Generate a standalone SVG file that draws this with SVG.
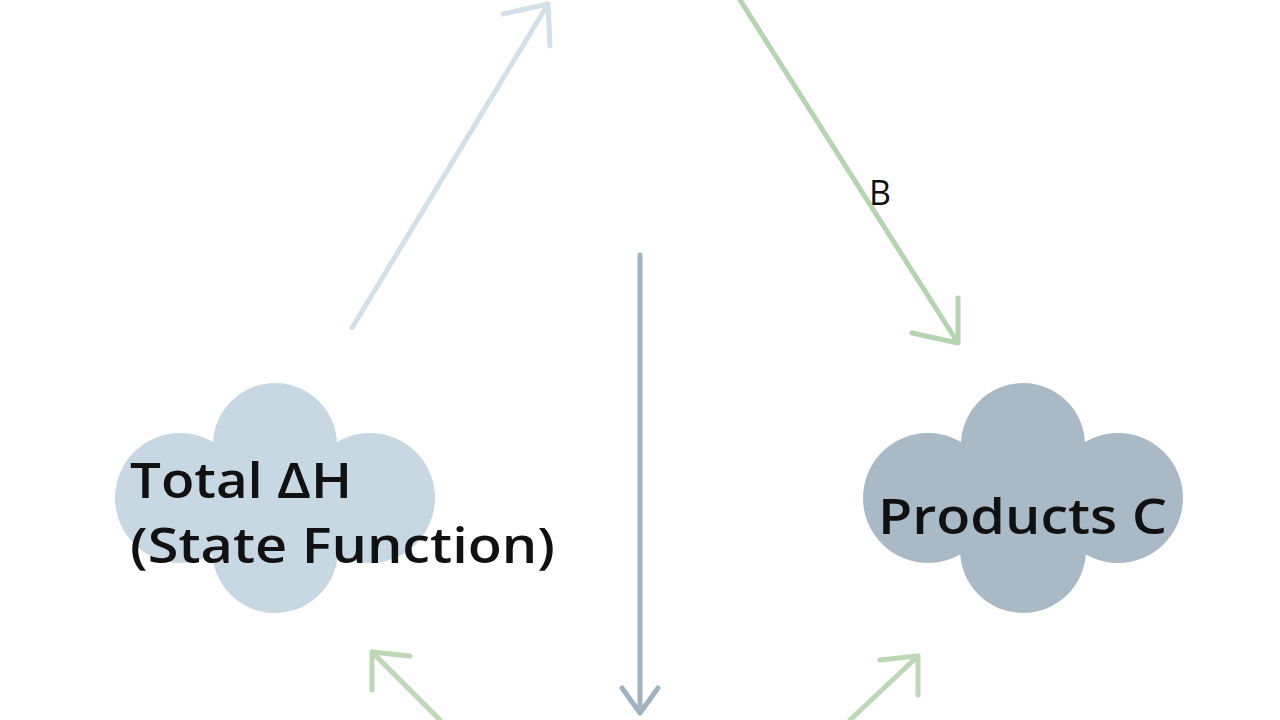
<svg xmlns="http://www.w3.org/2000/svg" width="1280" height="720" viewBox="0 0 1280 720">
<style>
.t{font-family:"Open Sans","Liberation Sans",sans-serif;font-weight:600;fill:#111}
.c{fill:none;stroke-width:5;stroke-linecap:round;stroke-linejoin:round}
</style>
<rect width="1280" height="720" fill="#fff"/>
<g id="connectors">
<path class="c" stroke="#d3e0e8" d="M352,328 L548,4 M503,14 L548,4 L550,46"/>
<path class="c" stroke="#b5d4b0" d="M740,0 L958,343 M912,333 L958,343 L958,298"/>
<text x="880" y="205" font-size="34" text-anchor="middle" font-family="Open Sans, sans-serif" fill="#111">B</text>
<path class="c" stroke="#9fb3c1" d="M640,255 L640,713 M622,688 L640,713 L658,688"/>
<path class="c" stroke="#bcd8b6" d="M440,720 L372,652 M372,690 L372,652 L410,656"/>
<path class="c" stroke="#bcd8b6" d="M850,720 L918,656 M880,660 L918,656 L918,695"/>
</g>
<g id="total" fill="#c8d8e3">
<circle cx="275" cy="445" r="62"/><circle cx="180" cy="498" r="65"/><circle cx="370" cy="498" r="65"/><circle cx="275" cy="550" r="63"/><rect x="180" y="445" width="190" height="105"/>
<text class="t" x="130" y="498" font-size="48" textLength="222" lengthAdjust="spacingAndGlyphs">Total ΔH</text>
<text class="t" x="130" y="563" font-size="48" textLength="425" lengthAdjust="spacingAndGlyphs">(State Function)</text>
</g>
<g id="products" fill="#a9b9c5">
<circle cx="1023" cy="445" r="62"/><circle cx="928" cy="498" r="65"/><circle cx="1118" cy="498" r="65"/><circle cx="1023" cy="550" r="63"/><rect x="928" y="445" width="190" height="105"/>
<text class="t" x="878" y="534" font-size="48" textLength="289" lengthAdjust="spacingAndGlyphs">Products C</text>
</g>
</svg>
